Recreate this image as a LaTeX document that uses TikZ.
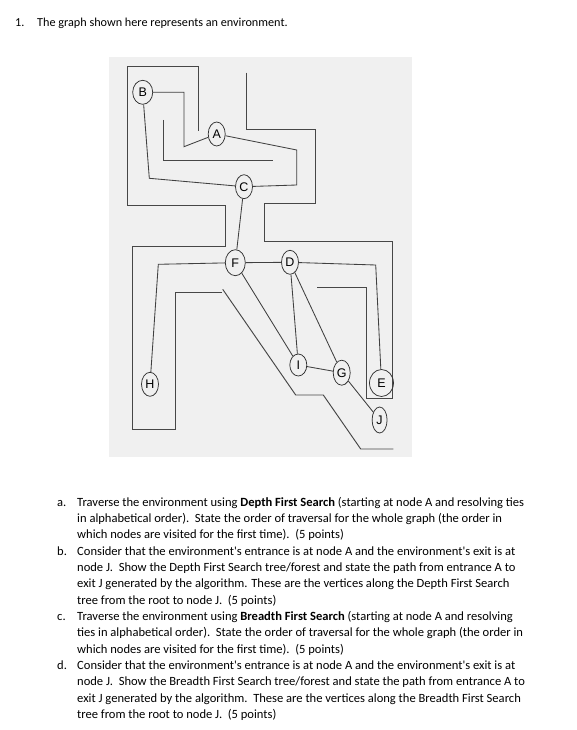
\documentclass[tikz,border=0pt]{standalone}
\usepackage{fontspec}
\setmainfont{Carlito}
\newfontfamily\plainfont{Carlito}
\newfontfamily\nodefont{Liberation Sans}
\newcommand\apos{{\plainfont\symbol{39}}}
\usetikzlibrary{shapes.geometric}
\begin{document}
\begin{tikzpicture}[x=1pt,y=-1pt,
  vert/.style={draw=black!80,line width=0.75pt,ellipse,inner sep=0pt,fill=none,font=\nodefont\fontsize{12.5}{13}\selectfont},
  edge/.style={draw=black!75,line width=0.85pt},
  wall/.style={draw=black!72,line width=0.95pt},
  txt/.style={anchor=base west,inner sep=0pt,font=\fontsize{12.55}{15}\selectfont},
  ttl/.style={anchor=base west,inner sep=0pt,font=\fontsize{12.2}{15}\selectfont}]
\useasboundingbox (0,0) rectangle (577,730);
\fill[white] (0,0) rectangle (577,730);
\fill[black!6] (109,57) rectangle (412,457);
% walls
\draw[wall] (198.7,130.7) -- (198.7,66.7) -- (127.3,66.7) -- (127.3,205.7) -- (225.7,205.7) -- (225.7,246.7) -- (132.3,246.7) -- (132.3,429) -- (175,429) -- (175,292.3) -- (221.7,292.3);
\draw[wall] (163.3,120) -- (163.3,160.7) -- (273.3,160.7);
\draw[wall] (246,72.7) -- (246,129) -- (315,129) -- (315,203.3) -- (264.3,203.3) -- (264.3,241) -- (392.7,241) -- (392.7,398.3) -- (366.7,398.3) -- (366.7,287.7) -- (316.7,287.7);
\draw[wall] (222.7,289.3) -- (295.7,395) -- (323.3,395) -- (360.7,449) -- (393.3,449);
% vertices
\node[vert,minimum width=20pt,minimum height=24pt] (nB) at (142.7,92.3) {B};
\node[vert,minimum width=17pt,minimum height=24pt] (nA) at (216.7,134) {A};
\node[vert,minimum width=17pt,minimum height=24pt] (nC) at (244,186.7) {C};
\node[vert,minimum width=20pt,minimum height=26pt] (nF) at (235.3,262.7) {F};
\node[vert,minimum width=17pt,minimum height=24pt] (nD) at (290,262.3) {D};
\node[vert,minimum width=17pt,minimum height=24pt] (nH) at (150,384.3) {H};
\node[vert,minimum width=17pt,minimum height=22pt] (nI) at (298.3,365) {I};
\node[vert,minimum width=17pt,minimum height=25pt] (nG) at (341.7,372.7) {G};
\node[vert,minimum width=24pt,minimum height=27pt] (nE) at (381.5,383) {E};
\node[vert,minimum width=15pt,minimum height=26pt] (nJ) at (379.6,420) {J};
% connectors
\draw[edge] (nB) -- (184,92.3) -- (184,146.7) -- (nA);
\draw[edge] (nB) -- (149.3,178.3) -- (nC);
\draw[edge] (nA) -- (296.7,150) -- (296.7,185) -- (nC);
\draw[edge] (nC) -- (nF);
\draw[edge] (nF) -- (nD);
\draw[edge] (nF) -- (158.3,264.3) -- (nH);
\draw[edge] (nD) -- (375.7,265) -- (nE);
\draw[edge] (nF) -- (nI);
\draw[edge] (nD) -- (nI);
\draw[edge] (nD) -- (nG);
\draw[edge] (nI) -- (nG);
\draw[edge] (nG) -- (nJ);
% text
\node[ttl] (t1n) at (15,27) {1.};
\node[ttl] (t1) at (37,27) {The graph shown here represents an environment.};
\node[txt] (la) at (57,506) {a.};
\node[txt] (a1) at (77,506) {Traverse the environment using \textbf{Depth First Search} (starting at node A and resolving ties};
\node[txt] (a2) at (77,522.35) {in alphabetical order).\ \ State the order of traversal for the whole graph (the order in};
\node[txt] (a3) at (77,538.7) {which nodes are visited for the first time).\ \ (5 points)};
\node[txt] (lb) at (57,555.05) {b.};
\node[txt] (b1) at (77,555.05) {Consider that the environment\apos s entrance is at node A and the environment\apos s exit is at};
\node[txt] (b2) at (77,571.4) {node J.\ \ Show the Depth First Search tree/forest and state the path from entrance A to};
\node[txt] (b3) at (77,587.75) {exit J generated by the algorithm. These are the vertices along the Depth First Search};
\node[txt] (b4) at (77,604.1) {tree from the root to node J.\ \ (5 points)};
\node[txt] (lc) at (57,620.45) {c.};
\node[txt] (c1) at (77,620.45) {Traverse the environment using \textbf{Breadth First Search} (starting at node A and resolving};
\node[txt] (c2) at (77,636.8) {ties in alphabetical order).\ \ State the order of traversal for the whole graph (the order in};
\node[txt] (c3) at (77,653.15) {which nodes are visited for the first time).\ \ (5 points)};
\node[txt] (ld) at (57,669.5) {d.};
\node[txt] (d1) at (77,669.5) {Consider that the environment\apos s entrance is at node A and the environment\apos s exit is at};
\node[txt] (d2) at (77,685.85) {node J.\ \ Show the Breadth First Search tree/forest and state the path from entrance A to};
\node[txt] (d3) at (77,702.2) {exit J generated by the algorithm.\ \ These are the vertices along the Breadth First Search};
\node[txt] (d4) at (77,718.55) {tree from the root to node J.\ \ (5 points)};
\end{tikzpicture}
\end{document}
